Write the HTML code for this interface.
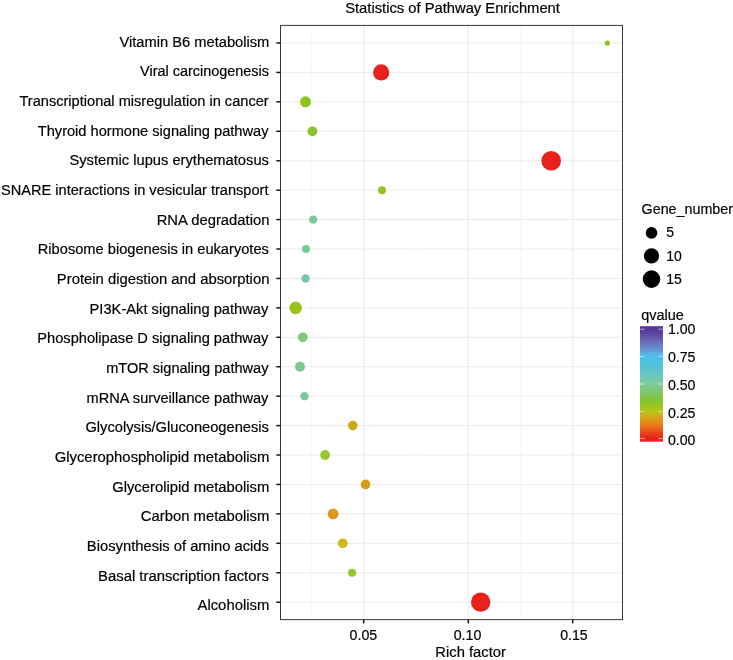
<!DOCTYPE html>
<html lang="en"><head><meta charset="utf-8"><title>Statistics of Pathway Enrichment</title>
<style>
html,body{margin:0;padding:0;background:#fff;}
body{width:733px;height:660px;overflow:hidden;}
svg{display:block;}
text{font-family:"Liberation Sans",Arial,Helvetica,sans-serif;fill:#000;stroke:#000;stroke-width:0.18px;}
</style></head><body>
<svg width="733" height="660" viewBox="0 0 733 660">
<defs>
<linearGradient id="qg" x1="0" y1="1" x2="0" y2="0">
<stop offset="0.0250" stop-color="#E8211D"/>
<stop offset="0.0725" stop-color="#E8401B"/>
<stop offset="0.1200" stop-color="#E96A18"/>
<stop offset="0.1675" stop-color="#E58E18"/>
<stop offset="0.2150" stop-color="#D7A81A"/>
<stop offset="0.2625" stop-color="#B7C61A"/>
<stop offset="0.3100" stop-color="#97C521"/>
<stop offset="0.3575" stop-color="#86C532"/>
<stop offset="0.4050" stop-color="#80C658"/>
<stop offset="0.4525" stop-color="#7FC87C"/>
<stop offset="0.5000" stop-color="#80CA9E"/>
<stop offset="0.5475" stop-color="#72C8B4"/>
<stop offset="0.5950" stop-color="#60C5C8"/>
<stop offset="0.6900" stop-color="#50C0E2"/>
<stop offset="0.7375" stop-color="#4DBDEE"/>
<stop offset="0.7660" stop-color="#58B4E6"/>
<stop offset="0.7850" stop-color="#6498D6"/>
<stop offset="0.8325" stop-color="#6A7EC6"/>
<stop offset="0.8800" stop-color="#6866B6"/>
<stop offset="0.9275" stop-color="#5C4AA6"/>
<stop offset="0.9750" stop-color="#54379A"/>
</linearGradient>
</defs>
<rect x="0" y="0" width="733" height="660" fill="#ffffff"/>
<g stroke="#f4f4f4" stroke-width="0.6" fill="none">
<line x1="311.6" y1="25.4" x2="311.6" y2="619.6"/>
<line x1="416.0" y1="25.4" x2="416.0" y2="619.6"/>
<line x1="520.5" y1="25.4" x2="520.5" y2="619.6"/>
</g>
<g stroke="#dedede" stroke-width="0.6" fill="none">
<line x1="363.7" y1="25.4" x2="363.7" y2="619.6"/>
<line x1="468.3" y1="25.4" x2="468.3" y2="619.6"/>
<line x1="572.7" y1="25.4" x2="572.7" y2="619.6"/>
<line x1="280.5" y1="43.00" x2="622.5" y2="43.00"/>
<line x1="280.5" y1="72.43" x2="622.5" y2="72.43"/>
<line x1="280.5" y1="101.86" x2="622.5" y2="101.86"/>
<line x1="280.5" y1="131.29" x2="622.5" y2="131.29"/>
<line x1="280.5" y1="160.72" x2="622.5" y2="160.72"/>
<line x1="280.5" y1="190.15" x2="622.5" y2="190.15"/>
<line x1="280.5" y1="219.58" x2="622.5" y2="219.58"/>
<line x1="280.5" y1="249.01" x2="622.5" y2="249.01"/>
<line x1="280.5" y1="278.44" x2="622.5" y2="278.44"/>
<line x1="280.5" y1="307.87" x2="622.5" y2="307.87"/>
<line x1="280.5" y1="337.30" x2="622.5" y2="337.30"/>
<line x1="280.5" y1="366.73" x2="622.5" y2="366.73"/>
<line x1="280.5" y1="396.16" x2="622.5" y2="396.16"/>
<line x1="280.5" y1="425.59" x2="622.5" y2="425.59"/>
<line x1="280.5" y1="455.02" x2="622.5" y2="455.02"/>
<line x1="280.5" y1="484.45" x2="622.5" y2="484.45"/>
<line x1="280.5" y1="513.88" x2="622.5" y2="513.88"/>
<line x1="280.5" y1="543.31" x2="622.5" y2="543.31"/>
<line x1="280.5" y1="572.74" x2="622.5" y2="572.74"/>
<line x1="280.5" y1="602.17" x2="622.5" y2="602.17"/>
</g>
<g stroke="none">
<circle cx="607.4" cy="43.00" r="2.6" fill="#8FC31F"/>
<circle cx="381.2" cy="72.43" r="8.1" fill="#E8211D"/>
<circle cx="305.5" cy="101.86" r="5.5" fill="#8FC320"/>
<circle cx="312.4" cy="131.29" r="4.9" fill="#8CC32A"/>
<circle cx="551.2" cy="160.72" r="9.8" fill="#E8211D"/>
<circle cx="382.0" cy="190.15" r="4.0" fill="#93C425"/>
<circle cx="313.2" cy="219.58" r="4.1" fill="#7FC899"/>
<circle cx="306.0" cy="249.01" r="4.0" fill="#7CC898"/>
<circle cx="305.6" cy="278.44" r="4.2" fill="#78C8A8"/>
<circle cx="295.6" cy="307.87" r="6.3" fill="#96C31E"/>
<circle cx="302.8" cy="337.30" r="4.85" fill="#80C87A"/>
<circle cx="300.0" cy="366.73" r="5.0" fill="#7EC88A"/>
<circle cx="304.5" cy="396.16" r="4.2" fill="#7AC8A0"/>
<circle cx="352.8" cy="425.59" r="4.85" fill="#D0A818"/>
<circle cx="325.1" cy="455.02" r="4.9" fill="#94C82E"/>
<circle cx="365.5" cy="484.45" r="4.85" fill="#D99C1A"/>
<circle cx="333.1" cy="513.88" r="5.4" fill="#DB9A1C"/>
<circle cx="342.8" cy="543.31" r="4.9" fill="#CDB81E"/>
<circle cx="352.1" cy="572.74" r="4.1" fill="#98C62C"/>
<circle cx="480.7" cy="602.17" r="9.7" fill="#E8211D"/>
</g>
<rect x="280.5" y="25.4" width="342.0" height="594.2" fill="none" stroke="#3a3a3a" stroke-width="1"/>
<g stroke="#151515" stroke-width="1.5" fill="none">
<line x1="276.3" y1="43.00" x2="280.5" y2="43.00"/>
<line x1="276.3" y1="72.43" x2="280.5" y2="72.43"/>
<line x1="276.3" y1="101.86" x2="280.5" y2="101.86"/>
<line x1="276.3" y1="131.29" x2="280.5" y2="131.29"/>
<line x1="276.3" y1="160.72" x2="280.5" y2="160.72"/>
<line x1="276.3" y1="190.15" x2="280.5" y2="190.15"/>
<line x1="276.3" y1="219.58" x2="280.5" y2="219.58"/>
<line x1="276.3" y1="249.01" x2="280.5" y2="249.01"/>
<line x1="276.3" y1="278.44" x2="280.5" y2="278.44"/>
<line x1="276.3" y1="307.87" x2="280.5" y2="307.87"/>
<line x1="276.3" y1="337.30" x2="280.5" y2="337.30"/>
<line x1="276.3" y1="366.73" x2="280.5" y2="366.73"/>
<line x1="276.3" y1="396.16" x2="280.5" y2="396.16"/>
<line x1="276.3" y1="425.59" x2="280.5" y2="425.59"/>
<line x1="276.3" y1="455.02" x2="280.5" y2="455.02"/>
<line x1="276.3" y1="484.45" x2="280.5" y2="484.45"/>
<line x1="276.3" y1="513.88" x2="280.5" y2="513.88"/>
<line x1="276.3" y1="543.31" x2="280.5" y2="543.31"/>
<line x1="276.3" y1="572.74" x2="280.5" y2="572.74"/>
<line x1="276.3" y1="602.17" x2="280.5" y2="602.17"/>
<line x1="363.7" y1="619.6" x2="363.7" y2="623.4"/>
<line x1="468.3" y1="619.6" x2="468.3" y2="623.4"/>
<line x1="572.7" y1="619.6" x2="572.7" y2="623.4"/>
</g>
<g font-size="14px">
<text x="119.44" y="46.50" textLength="149.9" lengthAdjust="spacingAndGlyphs">Vitamin B6 metabolism</text>
<text x="140.14" y="76.18" textLength="128.8" lengthAdjust="spacingAndGlyphs">Viral carcinogenesis</text>
<text x="19.47" y="105.86" textLength="249.2" lengthAdjust="spacingAndGlyphs">Transcriptional misregulation in cancer</text>
<text x="37.77" y="135.54" textLength="230.7" lengthAdjust="spacingAndGlyphs">Thyroid hormone signaling pathway</text>
<text x="69.43" y="165.22" textLength="199.5" lengthAdjust="spacingAndGlyphs">Systemic lupus erythematosus</text>
<text x="1.03" y="194.90" textLength="267.5" lengthAdjust="spacingAndGlyphs">SNARE interactions in vesicular transport</text>
<text x="156.69" y="224.58" textLength="112.7" lengthAdjust="spacingAndGlyphs">RNA degradation</text>
<text x="37.79" y="254.26" textLength="231.1" lengthAdjust="spacingAndGlyphs">Ribosome biogenesis in eukaryotes</text>
<text x="56.89" y="283.94" textLength="212.5" lengthAdjust="spacingAndGlyphs">Protein digestion and absorption</text>
<text x="89.59" y="313.62" textLength="178.8" lengthAdjust="spacingAndGlyphs">PI3K-Akt signaling pathway</text>
<text x="37.29" y="343.30" textLength="231.1" lengthAdjust="spacingAndGlyphs">Phospholipase D signaling pathway</text>
<text x="106.22" y="372.98" textLength="162.2" lengthAdjust="spacingAndGlyphs">mTOR signaling pathway</text>
<text x="86.62" y="402.66" textLength="181.8" lengthAdjust="spacingAndGlyphs">mRNA surveillance pathway</text>
<text x="85.46" y="432.34" textLength="183.5" lengthAdjust="spacingAndGlyphs">Glycolysis/Gluconeogenesis</text>
<text x="54.66" y="462.02" textLength="214.7" lengthAdjust="spacingAndGlyphs">Glycerophospholipid metabolism</text>
<text x="112.16" y="491.70" textLength="157.2" lengthAdjust="spacingAndGlyphs">Glycerolipid metabolism</text>
<text x="140.85" y="521.38" textLength="128.5" lengthAdjust="spacingAndGlyphs">Carbon metabolism</text>
<text x="86.89" y="551.06" textLength="182.0" lengthAdjust="spacingAndGlyphs">Biosynthesis of amino acids</text>
<text x="98.09" y="580.74" textLength="170.8" lengthAdjust="spacingAndGlyphs">Basal transcription factors</text>
<text x="197.47" y="610.42" textLength="71.9" lengthAdjust="spacingAndGlyphs">Alcoholism</text>
</g>
<g font-size="14px">
<text x="349.6" y="640.1" textLength="27.6" lengthAdjust="spacingAndGlyphs">0.05</text>
<text x="453.7" y="640.1" textLength="27.7" lengthAdjust="spacingAndGlyphs">0.10</text>
<text x="560.2" y="640.1" textLength="27.4" lengthAdjust="spacingAndGlyphs">0.15</text>
<text x="435.3" y="657.4" textLength="70.6" lengthAdjust="spacingAndGlyphs">Rich factor</text>
</g>
<text x="345.2" y="12.6" font-size="14.2px" textLength="214.7" lengthAdjust="spacingAndGlyphs">Statistics of Pathway Enrichment</text>
<g font-size="14px">
<text x="641.6" y="213.5" textLength="91.4" lengthAdjust="spacingAndGlyphs">Gene_number</text>
<circle cx="651.5" cy="232.9" r="5.8" fill="#000"/>
<circle cx="651.5" cy="255.9" r="7.6" fill="#000"/>
<circle cx="651.5" cy="279.1" r="8.8" fill="#000"/>
<text x="666.2" y="237.2">5</text>
<text x="666.2" y="260.6">10</text>
<text x="666.2" y="283.6">15</text>
<text x="641.2" y="319.9" textLength="42.6" lengthAdjust="spacingAndGlyphs">qvalue</text>
<rect x="640" y="326.2" width="23" height="115.5" fill="url(#qg)"/>
<g stroke="#ffffff" stroke-width="0.6" opacity="0.9">
<line x1="640" y1="329.2" x2="644.6" y2="329.2"/><line x1="658.4" y1="329.2" x2="663" y2="329.2"/>
<line x1="640" y1="356.5" x2="644.6" y2="356.5"/><line x1="658.4" y1="356.5" x2="663" y2="356.5"/>
<line x1="640" y1="384.0" x2="644.6" y2="384.0"/><line x1="658.4" y1="384.0" x2="663" y2="384.0"/>
<line x1="640" y1="411.4" x2="644.6" y2="411.4"/><line x1="658.4" y1="411.4" x2="663" y2="411.4"/>
<line x1="640" y1="438.5" x2="644.6" y2="438.5"/><line x1="658.4" y1="438.5" x2="663" y2="438.5"/>
</g>
<text x="667.9" y="333.8" textLength="27.6" lengthAdjust="spacingAndGlyphs">1.00</text>
<text x="667.9" y="361.8" textLength="27.6" lengthAdjust="spacingAndGlyphs">0.75</text>
<text x="667.9" y="389.5" textLength="27.6" lengthAdjust="spacingAndGlyphs">0.50</text>
<text x="667.9" y="417.6" textLength="27.6" lengthAdjust="spacingAndGlyphs">0.25</text>
<text x="667.9" y="444.9" textLength="27.6" lengthAdjust="spacingAndGlyphs">0.00</text>
</g>
</svg>
</body></html>
